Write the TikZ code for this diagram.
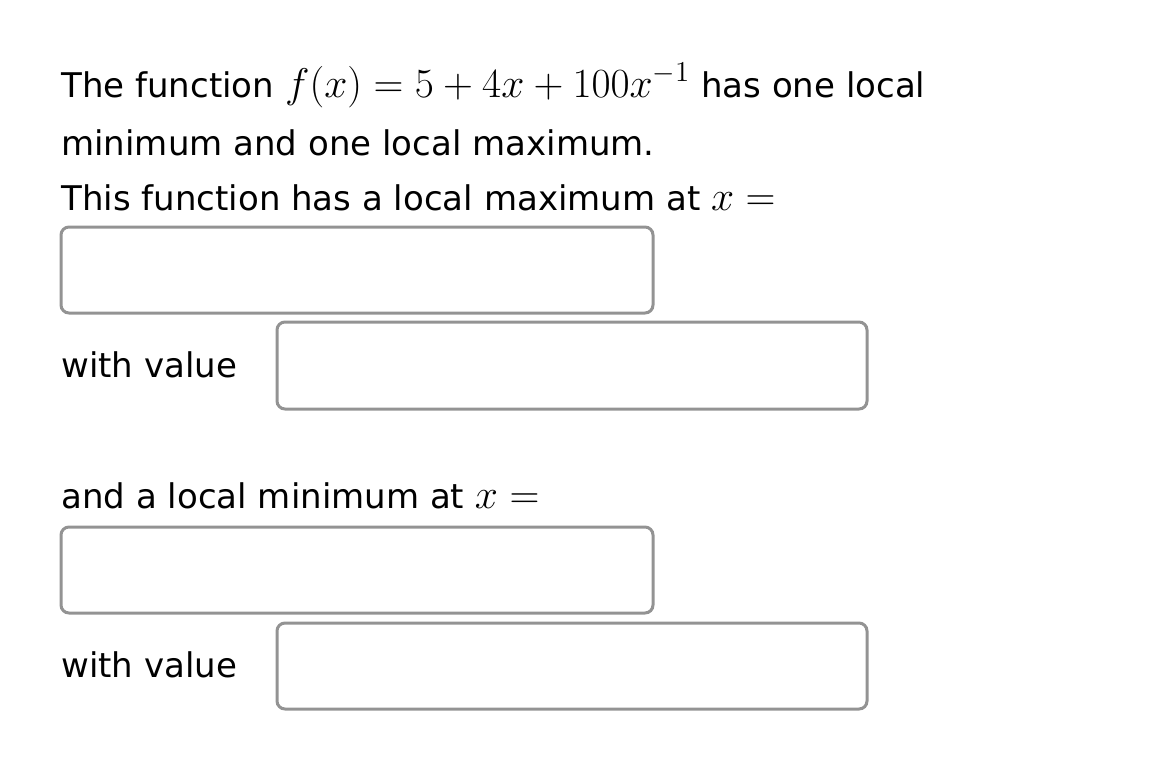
\documentclass[tikz,border=0pt]{standalone}
\usepackage{fontspec}
\setmainfont{DejaVu Sans}
\newcommand{\mymath}[1]{{\fontsize{22}{26}\selectfont$#1$}}
\begin{document}
\begin{tikzpicture}[x=0.5pt,y=-0.5pt,
  txt/.style={anchor=base west,inner sep=0pt,font=\fontsize{17}{22}\selectfont},
  inbox/.style={draw=gray!85,line width=1.5pt,rounded corners=4pt}]
\useasboundingbox (0,0) rectangle (1170,756);
\node[txt] (l1) at (61,97) {The function \mymath{f(x)=5+4x+100x^{-1}} has one local};
\node[txt] (l2) at (61,155) {minimum and one local maximum.};
\node[txt] (l3) at (61,210) {This function has a local maximum at \mymath{x=}};
\draw[inbox] (61,227) rectangle (653,313);
\node[txt] (w1) at (61,377) {with value};
\draw[inbox] (277,322) rectangle (867,409);
\node[txt] (l4) at (61,508) {and a local minimum at \mymath{x=}};
\draw[inbox] (61,527) rectangle (653,613);
\node[txt] (w2) at (61,677) {with value};
\draw[inbox] (277,623) rectangle (867,709);
\end{tikzpicture}
\end{document}
